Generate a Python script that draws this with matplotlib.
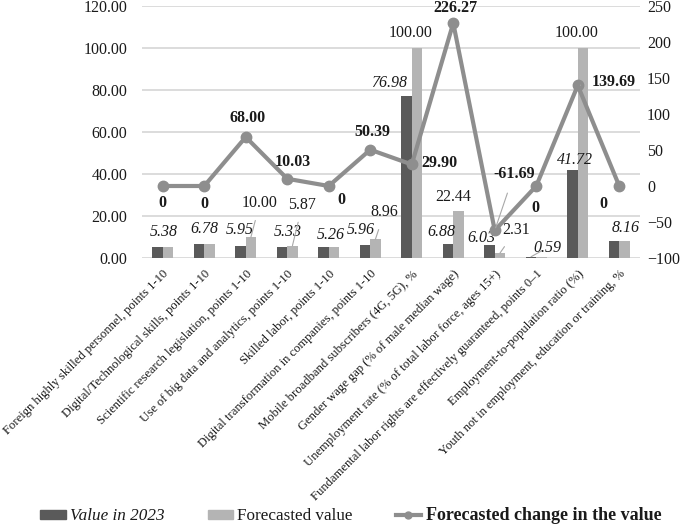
import numpy as np
import matplotlib
import matplotlib.pyplot as plt
from matplotlib.patches import Patch
from matplotlib.lines import Line2D

matplotlib.use('Agg')
plt.rcParams['font.family'] = ['Liberation Serif', 'DejaVu Serif']

categories = [
    'Foreign highly skilled personnel, points 1-10',
    'Digital/Technological skills, points 1-10',
    'Scientific research legislation, points 1-10',
    'Use of big data and analytics, points 1-10',
    'Skilled labor, points 1-10',
    'Digital transformation in companies, points 1-10',
    'Mobile broadband subscribers (4G, 5G), %',
    'Gender wage gap (% of male median wage)',
    'Unemployment rate (% of total labor force, ages 15+)',
    'Fundamental labor rights are effectively guaranteed, points 0\u20131',
    'Employment-to-population ratio (%)',
    'Youth not in employment, education or training, %',
]
value_2023 = [5.38, 6.78, 5.95, 5.33, 5.26, 5.96, 76.98, 6.88, 6.03, 0.59, 41.72, 8.16]
forecast = [5.38, 6.78, 10.00, 5.87, 5.26, 8.96, 100.00, 22.44, 2.31, 0.59, 100.00, 8.16]
change = [0, 0, 68.00, 10.03, 0, 50.39, 29.90, 226.27, -61.69, 0, 139.69, 0]
change_text = ['0', '0', '68.00', '10.03', '0', '50.39', '29.90', '226.27', '-61.69', '0', '139.69', '0']

dark = '#5a5a5a'
light = '#b4b4b4'
line_c = '#8e8e8e'
txt = '#1a1a1a'
lead = '#a8a8a8'

fig = plt.figure(figsize=(6.85, 5.26), dpi=100)
ax = fig.add_axes([142 / 685, 1 - 258 / 526, 498 / 685, 252 / 526])
ax2 = ax.twinx()

x = np.arange(len(categories))
w = 0.25
ax.bar(x - w / 2, value_2023, w, color=dark, zorder=2)
ax.bar(x + w / 2, forecast, w, color=light, zorder=2)
ax2.plot(x, change, color=line_c, lw=3, marker='o', ms=7.5, zorder=3)

ax.set_xlim(-0.5, len(categories) - 0.5)
ax.set_ylim(0, 120)
ax.set_yticks(np.arange(0, 121, 20))
ax.set_yticklabels([f'{v:.2f}' for v in np.arange(0, 121, 20)])
ax2.set_ylim(-100, 250)
ax2.set_yticks(np.arange(-100, 251, 50))
ax.grid(axis='y', color='#d9d9d9', lw=1.3, zorder=0)
ax.set_axisbelow(True)
for a in (ax, ax2):
    for s in a.spines.values():
        s.set_visible(False)
    a.tick_params(length=0, labelsize=11.5, colors=txt)
ax.tick_params(axis='y', pad=10.5)
ax2.tick_params(axis='y', pad=5)

ax.set_xticks(x)
ax.set_xticklabels(categories, rotation=45, ha='right', rotation_mode='anchor',
                   fontsize=9.1, color=txt)
ax.tick_params(axis='x', pad=7)

# offsets in pixels from the data point: (dx, dy, leader)
italic_off = [(6, 15, 0), (5, 15, 0), (-1, 16, 0), (6, 15, 0), (7, 12, 0), (-4, 15, 0),
              (-17, 13, 0), (-7, 12, 0), (-8, 7, 0), (16, 9, 1), (2, 10, 0), (12, 13, 0)]
normal_off = {2: (9, 34, 1), 3: (10, 41, 1), 5: (9, 27, 1), 6: (-6, 15, 0),
              7: (-5, 14, 0), 8: (16, 23, 1), 10: (-6, 15, 0)}
line_off = [(0, -17, 0), (0, -18, 0), (2, 19, 0), (6, 17, 0), (13, -14, 0), (2, 18, 0),
            (28, 1, 0), (2, 15, 0), (19, 56, 1), (-1, -22, 0), (36, 3, 1), (-16, -18, 0)]

for i, v in enumerate(value_2023):
    dx, dy, ld = italic_off[i]
    ax.annotate(f'{v:.2f}', xy=(i - w / 2, v), xytext=(dx, dy), textcoords='offset pixels',
                ha='center', va='center', fontsize=11.5, style='italic', color=txt, zorder=5,
                arrowprops=dict(arrowstyle='-', color=lead, lw=0.8, shrinkA=4, shrinkB=0) if ld else None)
for i, (dx, dy, ld) in normal_off.items():
    v = forecast[i]
    ax.annotate(f'{v:.2f}', xy=(i + w / 2, v), xytext=(dx, dy), textcoords='offset pixels',
                ha='center', va='center', fontsize=11.5, color=txt, zorder=5,
                arrowprops=dict(arrowstyle='-', color=lead, lw=0.8, shrinkA=5, shrinkB=0) if ld else None)
for i, v in enumerate(change):
    dx, dy, ld = line_off[i]
    ax2.annotate(change_text[i], xy=(i, v), xytext=(dx, dy), textcoords='offset pixels',
                 ha='center', va='center', fontsize=11.5, fontweight='bold', color=txt, zorder=5,
                 arrowprops=dict(arrowstyle='-', color=lead, lw=0.8, shrinkA=6, shrinkB=2) if ld else None)

handles = [Patch(color=dark), Patch(color=light),
           Line2D([], [], color=line_c, lw=3, marker='o', ms=5)]
names = ['Value in 2023', 'Forecasted value', 'Forecasted change in the value']
leg = fig.legend(handles, names, loc='center', bbox_to_anchor=(0.512, 1 - 516 / 526), ncol=3,
                 frameon=False, fontsize=12.3, handlelength=1.5, handleheight=0.4,
                 columnspacing=2.5, handletextpad=0.25)
t = leg.get_texts()
t[0].set_style('italic')
t[2].set_fontweight('bold')
t[2].set_fontsize(13)
for tt in t:
    tt.set_color(txt)

fig.savefig('out.png', dpi=100)
